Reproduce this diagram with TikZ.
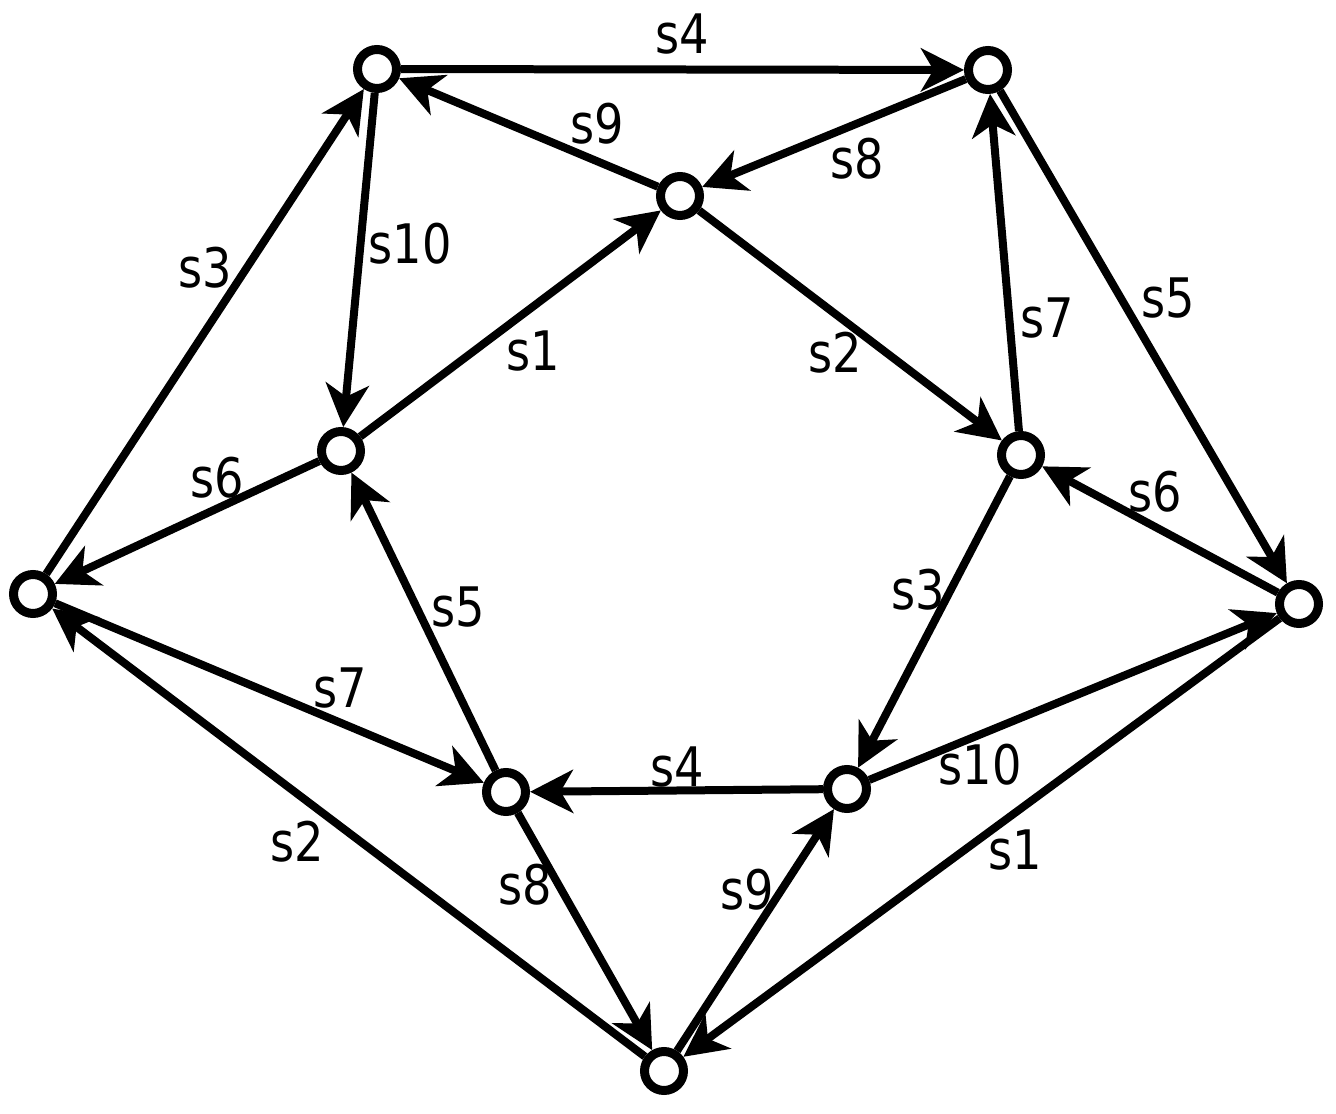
\documentclass[tikz,border=0pt]{standalone}
\usepackage{fontspec}
\setmainfont{DejaVu Sans}[FakeStretch=0.85]
\usetikzlibrary{arrows.meta}
\begin{document}
\begin{tikzpicture}[x=0.02cm,y=-0.02cm,
  vert/.style={circle,draw,line width=0.18cm,minimum size=0.78cm,inner sep=0pt,outer sep=0.09cm,fill=white},
  arr/.style={line width=0.16cm,-{Stealth[length=0.86cm,width=0.86cm,inset=0.25cm]}},
  lab/.style={font=\fontsize{31}{37}\selectfont,inner sep=0pt}]
\useasboundingbox (0,0) rectangle (1336,1114);
\node[vert] (A) at (377,69) {};
\node[vert] (B) at (988,70) {};
\node[vert] (C) at (680,196) {};
\node[vert] (D) at (341,451) {};
\node[vert] (E) at (1021,455) {};
\node[vert] (F) at (33,594) {};
\node[vert] (G) at (1299,604) {};
\node[vert] (H) at (506,792) {};
\node[vert] (I) at (847,789) {};
\node[vert] (J) at (664,1071) {};
\draw[arr] (A) -- (B);
\draw[arr] (B) -- (C);
\draw[arr] (C) -- (A);
\draw[arr] (F) -- (A);
\draw[arr] (A) -- (D);
\draw[arr] (D) -- (C);
\draw[arr] (C) -- (E);
\draw[arr] (E) -- (B);
\draw[arr] (B) -- (G);
\draw[arr] (D) -- (F);
\draw[arr] (G) -- (E);
\draw[arr] (E) -- (I);
\draw[arr] (F) -- (H);
\draw[arr] (H) -- (D);
\draw[arr] (I) -- (H);
\draw[arr] (I) -- (G);
\draw[arr] (J) -- (F);
\draw[arr] (H) -- (J);
\draw[arr] (J) -- (I);
\draw[arr] (G) -- (J);
\node[lab] (l1) at (682,34) {s4};
\node[lab] (l2) at (597,124) {s9};
\node[lab] (l3) at (857,159) {s8};
\node[lab] (l4) at (410,244) {s10};
\node[lab] (l5) at (205,268) {s3};
\node[lab] (l6) at (533,351) {s1};
\node[lab] (l7) at (835,353) {s2};
\node[lab] (l8) at (1047,318) {s7};
\node[lab] (l9) at (1168,298) {s5};
\node[lab] (l10) at (217,478) {s6};
\node[lab] (l11) at (1155,492) {s6};
\node[lab] (l12) at (918,590) {s3};
\node[lab] (l13) at (458,607) {s5};
\node[lab] (l14) at (340,688) {s7};
\node[lab] (l15) at (677,767) {s4};
\node[lab] (l16) at (980,765) {s10};
\node[lab] (l17) at (297,842) {s2};
\node[lab] (l18) at (1015,850) {s1};
\node[lab] (l19) at (525,885) {s8};
\node[lab] (l20) at (747,890) {s9};
\end{tikzpicture}
\end{document}
